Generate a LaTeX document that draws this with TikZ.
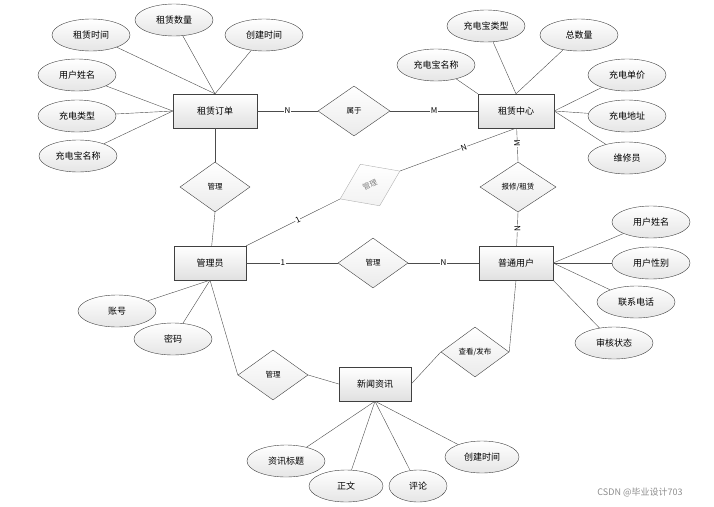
\documentclass[tikz,border=0pt]{standalone}
\usepackage{fontspec}
\setmainfont{Noto Sans CJK SC}
\usetikzlibrary{shapes.geometric}
\begin{document}
\begin{tikzpicture}[x=1pt,y=-1pt,
  every node/.style={font=\fontsize{9}{10}\selectfont},
  ent/.style={draw=black!75,rectangle,minimum width=#1,minimum height=34pt,top color=white,bottom color=black!12},
  ent/.default=76pt,
  att/.style={draw=black!75,ellipse,minimum width=78pt,minimum height=32pt,inner sep=0pt,top color=white,bottom color=black!10},
  rel/.style={draw=black!75,diamond,aspect=1.4,minimum width=#1,minimum height=50pt,inner sep=0pt,top color=white,bottom color=black!8,font=\fontsize{7.5}{8}\selectfont},
  rel/.default=70pt,
  ln/.style={draw=black!70},
  lb/.style={font=\fontsize{8}{9}\selectfont,fill=white,inner sep=0.5pt}]
\useasboundingbox (0,0) rectangle (714,506);
% entities
\node[ent=84pt] (zd) at (215,111) {租赁订单};
\node[ent] (zx) at (516,111) {租赁中心};
\node[ent=72pt] (gly) at (210,263) {管理员};
\node[ent=74pt] (pt) at (516,263) {普通用户};
\node[ent=72pt] (xw) at (375,384) {新闻资讯};
% relations
\node[rel] (r1) at (215,187) {管理};
\node[rel=72pt] (r2) at (354,111) {属于};
\node[rel=66pt,draw=black!30,text=black!50,top color=white,bottom color=black!5,rotate=25,minimum height=46pt] (r3) at (370,185) {管理};
\node[rel=76pt] (r4) at (518,187) {报修/租赁};
\node[rel] (r5) at (373,263) {管理};
\node[rel] (r6) at (273,375) {管理};
\node[rel=68pt] (r7) at (475,352) {查看/发布};
% attributes
\node[att] (a1) at (91,35) {租赁时间};
\node[att] (a2) at (174,20) {租赁数量};
\node[att] (a3) at (264,35) {创建时间};
\node[att] (a4) at (77,75) {用户姓名};
\node[att] (a5) at (77,116) {充电类型};
\node[att] (a6) at (78,156) {充电宝名称};
\node[att] (b1) at (486,26) {充电宝类型};
\node[att] (b2) at (579,35) {总数量};
\node[att] (b3) at (436,65) {充电宝名称};
\node[att] (b4) at (627,75) {充电单价};
\node[att] (b5) at (627,116) {充电地址};
\node[att] (b6) at (627,158) {维修员};
\node[att] (c1) at (651,222) {用户姓名};
\node[att] (c2) at (651,263) {用户性别};
\node[att] (c3) at (636,302) {联系电话};
\node[att] (c4) at (614,343) {审核状态};
\node[att] (d1) at (117,311) {账号};
\node[att] (d2) at (173,339) {密码};
\node[att] (e1) at (286,461) {资讯标题};
\node[att,minimum width=74pt] (e2) at (346,486) {正文};
\node[att,minimum width=58pt] (e3) at (418,486) {评论};
\node[att,minimum width=74pt] (e4) at (482,457) {创建时间};
% attribute lines
\foreach \a in {a1,a2,a3} \draw[ln] (\a) -- (zd.north);
\foreach \a in {a4,a5,a6} \draw[ln] (\a) -- (zd.west);
\foreach \a in {b1,b2} \draw[ln] (\a) -- (zx.north);
\draw[ln] (b3) -- (zx.north west);
\foreach \a in {b4,b5,b6} \draw[ln] (\a) -- (zx.east);
\foreach \a in {c1,c2,c3} \draw[ln] (\a) -- (pt.east);
\draw[ln] (c4) -- (pt.south east);
\foreach \a in {d1,d2} \draw[ln] (\a) -- (gly.south);
\foreach \a in {e1,e2,e3,e4} \draw[ln] (\a) -- (xw.south);
% relation lines
\draw[ln] (zd) -- (r1.north); \draw[ln] (r1.south) -- (gly);
\draw[ln] (zd) -- node[lb,pos=0.5]{N} (r2.west);
\draw[ln] (r2.east) -- node[lb,pos=0.5]{M} (zx);
\draw[ln] (gly.north east) -- node[lb,pos=0.55,sloped]{1} (r3.west);
\draw[ln] (r3.east) -- node[lb,pos=0.55,sloped]{N} (zx.south);
\draw[ln] (zx) -- node[lb,pos=0.45,rotate=90]{M} (r4.north);
\draw[ln] (r4.south) -- node[lb,pos=0.5,rotate=90]{N} (pt);
\draw[ln] (gly) -- node[lb,pos=0.4]{1} (r5.west);
\draw[ln] (r5.east) -- node[lb,pos=0.5]{N} (pt);
\draw[ln] (gly.south) -- (r6.west);
\draw[ln] (r6.east) -- (xw.west);
\draw[ln] (xw.east) -- (r7.west);
\draw[ln] (r7.east) -- (pt.south);
\node[text=black!45,font=\fontsize{9}{10}\selectfont] (wm) at (640,493) {CSDN @毕业设计703};
\end{tikzpicture}
\end{document}
